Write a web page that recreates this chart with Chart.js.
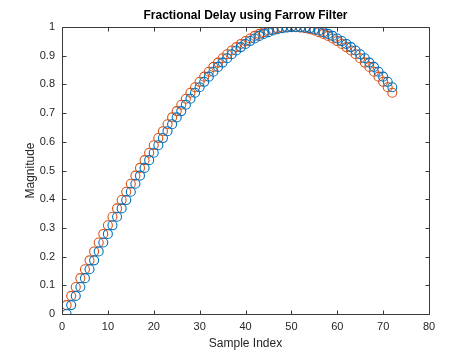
<!DOCTYPE html>
<html>
<head>
<meta charset="utf-8">
<script src="https://cdn.jsdelivr.net/npm/chart.js@4/dist/chart.umd.min.js"></script>
<style>
html,body{margin:0;padding:0;background:#fff;}
#wrap{width:474px;height:355px;position:relative;}
</style>
</head>
<body>
<div id="wrap"><canvas id="c" width="474" height="355"></canvas></div>
<script>
const sampleIndex = [1,2,3,4,5,6,7,8,9,10,11,12,13,14,15,16,17,18,19,20,21,22,23,24,25,26,27,28,29,30,31,32,33,34,35,36,37,38,39,40,41,42,43,44,45,46,47,48,49,50,51,52,53,54,55,56,57,58,59,60,61,62,63,64,65,66,67,68,69,70,71,72];
const inputSignal = [0.000,0.031,0.063,0.094,0.125,0.156,0.187,0.218,0.249,0.279,
  0.309,0.339,0.368,0.397,0.426,0.454,0.482,0.509,0.536,0.562,
  0.588,0.613,0.637,0.661,0.685,0.707,0.729,0.750,0.771,0.790,
  0.809,0.827,0.844,0.861,0.876,0.891,0.905,0.918,0.930,0.941,
  0.951,0.960,0.969,0.976,0.982,0.988,0.992,0.996,0.998,0.999,
  1.000,0.999,0.998,0.996,0.992,0.988,0.982,0.976,0.969,0.960,
  0.951,0.941,0.930,0.918,0.905,0.891,0.876,0.861,0.844,0.827,
  0.809,0.790];
const delayedSignal = [0.031,0.063,0.094,0.125,0.156,0.187,0.218,0.249,0.279,0.309,
  0.339,0.368,0.397,0.426,0.454,0.482,0.509,0.536,0.562,0.588,
  0.613,0.637,0.661,0.685,0.707,0.729,0.750,0.771,0.790,0.809,
  0.827,0.844,0.861,0.876,0.891,0.905,0.918,0.930,0.941,0.951,
  0.960,0.969,0.976,0.982,0.988,0.992,0.996,0.998,0.999,1.000,
  0.999,0.998,0.996,0.992,0.988,0.982,0.976,0.969,0.960,0.951,
  0.941,0.930,0.918,0.905,0.891,0.876,0.861,0.844,0.827,0.809,
  0.790,0.771];
const xTicks = [0,10,20,30,40,50,60,70,80];
const yTicks = [0,0.1,0.2,0.3,0.4,0.5,0.6,0.7,0.8,0.9,1];
const chartTitle = 'Fractional Delay using Farrow Filter';

const FONT = "'Liberation Sans', Arial, Helvetica, sans-serif";
const AXIS = '#3a3a3a';
const TEXT = '#262626';

function pts(xs, ys){ return xs.map((x,i)=>({x:x, y:ys[i]})); }

const boxPlugin = {
  id:'box',
  afterDatasetsDraw(chart){
    const {ctx, chartArea:a, scales} = chart;
    ctx.save();
    ctx.strokeStyle = AXIS;
    ctx.lineWidth = 1;
    ctx.beginPath();
    const L=Math.round(a.left)+0.5, R=Math.round(a.right)+0.5, T=Math.round(a.top)+0.5, B=Math.round(a.bottom)+0.5;
    ctx.rect(L, T, R-L, B-T);
    const tl = 4;
    xTicks.forEach(v=>{
      const px = Math.round(scales.x.getPixelForValue(v))+0.5;
      ctx.moveTo(px,B); ctx.lineTo(px,B-tl);
      ctx.moveTo(px,T); ctx.lineTo(px,T+tl);
    });
    yTicks.forEach(v=>{
      const py = Math.round(scales.y.getPixelForValue(v))+0.5;
      ctx.moveTo(L,py); ctx.lineTo(L+tl,py);
      ctx.moveTo(R,py); ctx.lineTo(R-tl,py);
    });
    ctx.stroke();
    // title centred over the plot area
    ctx.fillStyle = '#000';
    ctx.font = "bold 12px " + FONT;
    ctx.textAlign = 'center';
    ctx.textBaseline = 'middle';
    ctx.fillText(chartTitle, (a.left + a.right)/2, 16);
    ctx.restore();
  }
};

new Chart(document.getElementById('c'), {
  type:'scatter',
  data:{
    datasets:[
      {label:'Input', data:pts(sampleIndex,inputSignal), showLine:false,
       pointStyle:'circle', pointRadius:4.5, pointBorderWidth:1.1,
       borderColor:'#0072BD', backgroundColor:'rgba(0,0,0,0)'},
      {label:'Delayed', data:pts(sampleIndex,delayedSignal), showLine:false,
       pointStyle:'circle', pointRadius:4.5, pointBorderWidth:1.1,
       borderColor:'#D95319', backgroundColor:'rgba(0,0,0,0)'}
    ]
  },
  options:{
    responsive:false,
    animation:false,
    devicePixelRatio:1,
    layout:{padding:{left:0,right:45,top:27,bottom:0}},
    plugins:{
      legend:{display:false},
      tooltip:{enabled:false},
      title:{display:false}
    },
    scales:{
      x:{type:'linear', min:0, max:80,
        afterFit(s){ s.height = 41; },
        afterBuildTicks(s){ s.ticks = xTicks.map(v=>({value:v})); },
        grid:{display:false, drawTicks:false},
        border:{display:false},
        ticks:{color:TEXT, font:{family:FONT,size:11}, padding:6, maxRotation:0, autoSkip:false},
        title:{display:true, text:'Sample Index', color:TEXT, font:{family:FONT,size:12}, padding:{top:0,bottom:4}}
      },
      y:{type:'linear', min:0, max:1,
        afterFit(s){ s.width = 62; },
        afterBuildTicks(s){ s.ticks = yTicks.map(v=>({value:v})); },
        grid:{display:false, drawTicks:false},
        border:{display:false},
        ticks:{color:TEXT, font:{family:FONT,size:11}, padding:7, autoSkip:false,
          callback:(v)=>String(Math.round(v*10)/10)},
        title:{display:true, text:'Magnitude', color:TEXT, font:{family:FONT,size:12}, padding:{top:23,bottom:0}}
      }
    }
  },
  plugins:[boxPlugin]
});
</script>
</body>
</html>
